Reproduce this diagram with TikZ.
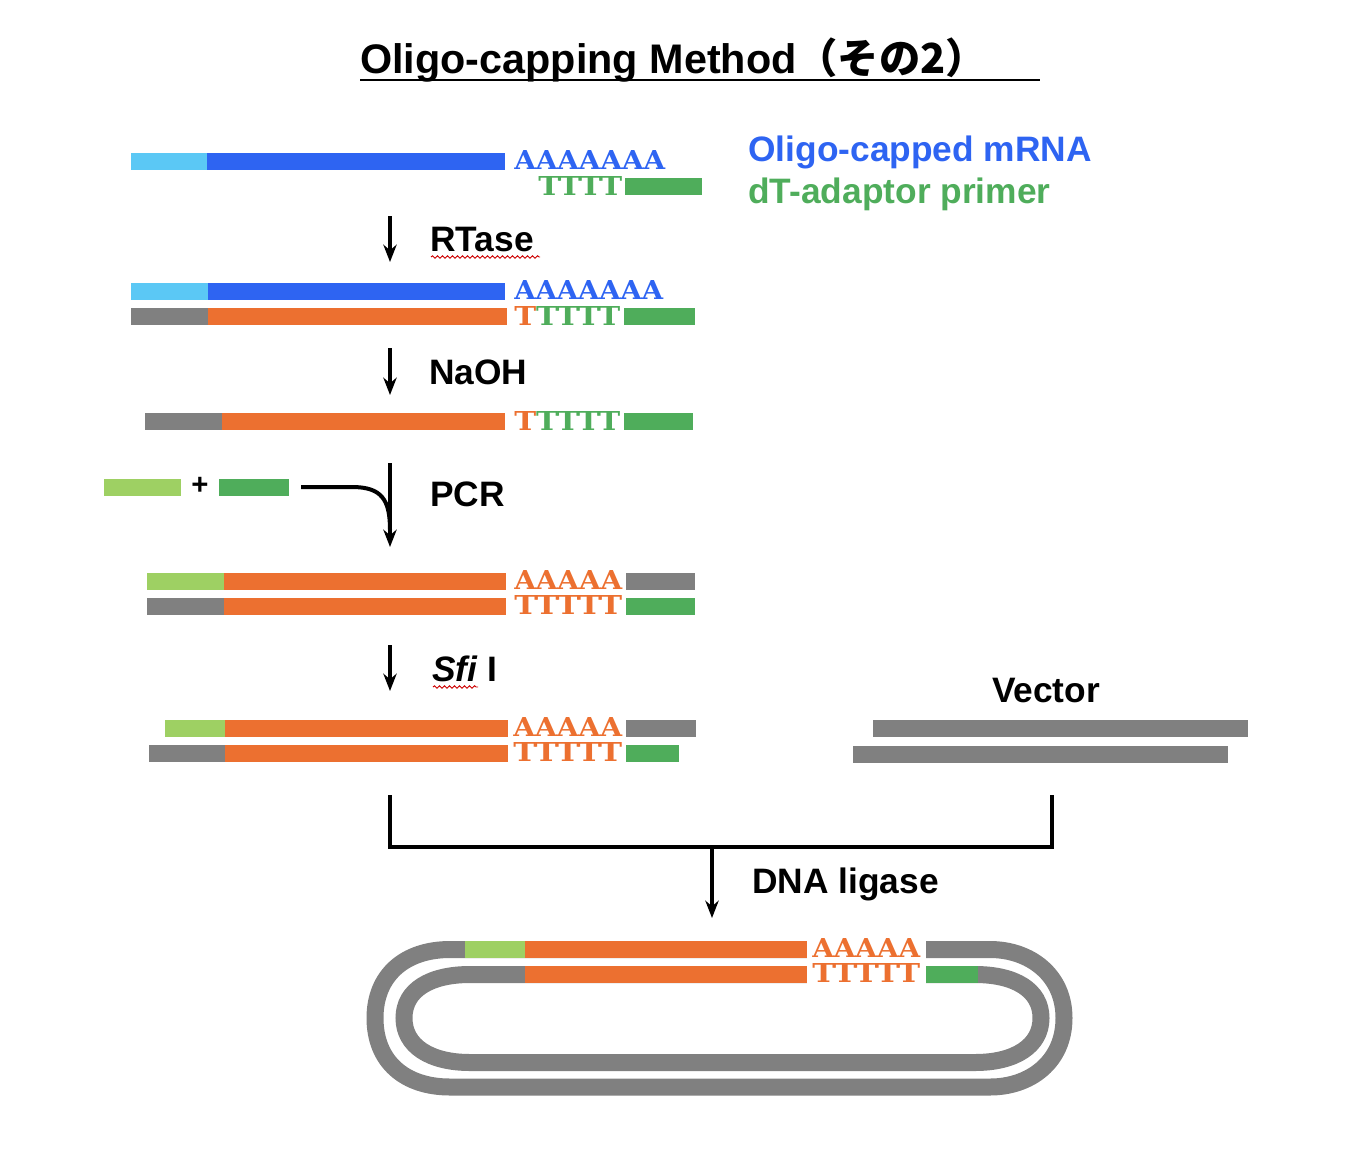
\documentclass[tikz,border=0pt]{standalone}
\usepackage{fontspec}
\setmainfont{Liberation Sans}
\newfontfamily\cjk{Noto Sans CJK JP}
\newfontfamily\seqf{DejaVu Serif Condensed}[BoldFont={DejaVu Serif Condensed Bold}]
\usetikzlibrary{arrows.meta,decorations.pathmorphing}
\definecolor{lb}{HTML}{5BC8F5}
\definecolor{bl}{HTML}{2E64F2}
\definecolor{gr}{HTML}{4FAD5B}
\definecolor{og}{HTML}{EC7030}
\definecolor{gy}{HTML}{808080}
\definecolor{lg}{HTML}{9ED063}
\newdimen\pxu \pxu=0.75pt
% \strand{name}{color}{x1}{x2}{ytop}
\newcommand\strand[5]{\fill[#2] (#3,#5) rectangle (#4,#5+17) coordinate (#1);}
% \sqtxt{name}{x}{ybottom}{width}{content}
\newcommand\sqtxt[5]{\node[anchor=south west,inner sep=0] (#1) at (#2,#3) {\resizebox{#4\pxu}{19\pxu}{\seqf\bfseries #5}};}
\tikzset{lab/.style={font=\fontsize{26.5}{30}\selectfont\bfseries,inner sep=0,anchor=west},
 arr/.style={line width=3pt,-{Stealth[length=13pt,width=10pt]}},
 wavy/.style={red!80!black,line width=0.7pt,decorate,decoration={snake,amplitude=0.9pt,segment length=3.75pt}}}
\begin{document}
\begin{tikzpicture}[x=0.75pt,y=-0.75pt]
\useasboundingbox (0,0) rectangle (1356,1150);
% title
\node[inner sep=0,anchor=west] (title) at (360,60) {\fontsize{31}{36}\selectfont\bfseries Oligo-capping Method\cjk（その2）};
\draw[line width=1.65pt] (360,80) -- (1040,80);
% row 1
\strand{r1a}{lb}{131}{207}{153}
\strand{r1b}{bl}{207}{505}{153}
\sqtxt{t1a}{514}{170}{151}{\color{bl}AAAAAAA}
\sqtxt{t1b}{538}{196}{84}{\color{gr}TTTT}
\strand{r1c}{gr}{625}{702}{178}
\node[lab,text=bl] (l1) at (748,152) {Oligo-capped mRNA};
\node[lab,text=gr] (l2) at (748,194) {dT-adaptor primer};
% arrow RTase
\coordinate (a1s) at (390,216); \coordinate (a1e) at (390,262);
\draw[arr] (a1s) -- (a1e);
\node[lab] (rt) at (430,240) {RTase};
\draw[wavy] (431,257) -- (540,257);
% row 2
\strand{r2a}{lb}{131}{208}{283}
\strand{r2b}{bl}{208}{505}{283}
\sqtxt{t2a}{514}{300}{149}{\color{bl}AAAAAAA}
\strand{r2c}{gy}{131}{208}{308}
\strand{r2d}{og}{208}{507}{308}
\sqtxt{t2b}{514}{326}{106}{\color{og}T\color{gr}TTTT}
\strand{r2e}{gr}{624}{695}{308}
% NaOH
\coordinate (a2s) at (390,348); \coordinate (a2e) at (390,395);
\draw[arr] (a2s) -- (a2e);
\node[lab] (na) at (429,372) {NaOH};
% row 3
\strand{r3a}{gy}{145}{222}{413}
\strand{r3b}{og}{222}{505}{413}
\sqtxt{t3}{514}{431}{106}{\color{og}T\color{gr}TTTT}
\strand{r3c}{gr}{624}{693}{413}
% PCR
\strand{p1}{lg}{104}{181}{479}
\node[inner sep=0,font=\fontsize{22}{24}\selectfont\bfseries] (plus) at (200,486) {+};
\strand{p2}{gr}{219}{289}{479}
\coordinate (a3s) at (390,463); \coordinate (a3e) at (390,547);
\coordinate (c0) at (301,487);
\draw[arr] (a3s) -- (a3e);
\draw[line width=3pt] (c0) -- (352,487) .. controls (382,487) and (390,500) .. (390,530);
\node[lab] (pcr) at (430,494) {PCR};
% row 4
\strand{r4a}{lg}{147}{224}{573}
\strand{r4b}{og}{224}{506}{573}
\sqtxt{t4a}{514}{590}{108}{\color{og}AAAAA}
\strand{r4c}{gy}{626}{695}{573}
\strand{r4d}{gy}{147}{224}{598}
\strand{r4e}{og}{224}{506}{598}
\sqtxt{t4b}{514}{615}{108}{\color{og}TTTTT}
\strand{r4f}{gr}{626}{695}{598}
% Sfi I
\coordinate (a4s) at (390,645); \coordinate (a4e) at (390,691);
\draw[arr] (a4s) -- (a4e);
\node[lab] (sfi) at (432,669) {\textit{Sfi} I};
\draw[wavy] (433,687) -- (478,687);
% row 5
\strand{r5a}{lg}{165}{225}{720}
\strand{r5b}{og}{225}{508}{720}
\sqtxt{t5a}{513}{737}{109}{\color{og}AAAAA}
\strand{r5c}{gy}{626}{696}{720}
\strand{r5d}{gy}{149}{225}{745}
\strand{r5e}{og}{225}{508}{745}
\sqtxt{t5b}{513}{762}{109}{\color{og}TTTTT}
\strand{r5f}{gr}{626}{679}{745}
% vector
\node[lab,anchor=center] (vec) at (1046,691) {Vector};
\strand{v1}{gy}{873}{1248}{720}
\strand{v2}{gy}{853}{1228}{746}
% bracket
\coordinate (b1) at (390,795); \coordinate (b2) at (390,847);
\coordinate (b3) at (1052,847); \coordinate (b4) at (1052,795);
\draw[line width=2.5pt] (b1) -- (b2) -- (b3) -- (b4);
\coordinate (a5s) at (712,847); \coordinate (a5e) at (712,918);
\draw[arr] (a5s) -- (a5e);
\node[lab] (lig) at (752,884) {DNA ligase};
% plasmid
\draw[gy,line width=12.75pt] (450,949.5) -- (990,949.5) .. controls (1030,949.5) and (1064,975) .. (1064,1018) .. controls (1064,1062) and (1030,1087) .. (990,1087) -- (450,1087) .. controls (405,1087) and (375,1062) .. (375,1018) .. controls (375,975) and (405,949.5) .. (450,949.5);
\draw[gy,line width=12.75pt] (470,974.5) -- (975,974.5) .. controls (1015,974.5) and (1041,990) .. (1041,1018) .. controls (1041,1046) and (1015,1062.5) .. (975,1062.5) -- (470,1062.5) .. controls (430,1062.5) and (404,1046) .. (404,1018) .. controls (404,990) and (430,974.5) .. (470,974.5);
\fill[white] (807,940) rectangle (926,984);
\strand{q1}{lg}{465}{525}{941}
\strand{q2}{og}{525}{807}{941}
\sqtxt{q3}{812}{958}{108}{\color{og}AAAAA}
\strand{q4}{og}{525}{807}{966}
\sqtxt{q5}{812}{983}{108}{\color{og}TTTTT}
\strand{q6}{gr}{926}{978}{966}
\end{tikzpicture}
\end{document}
